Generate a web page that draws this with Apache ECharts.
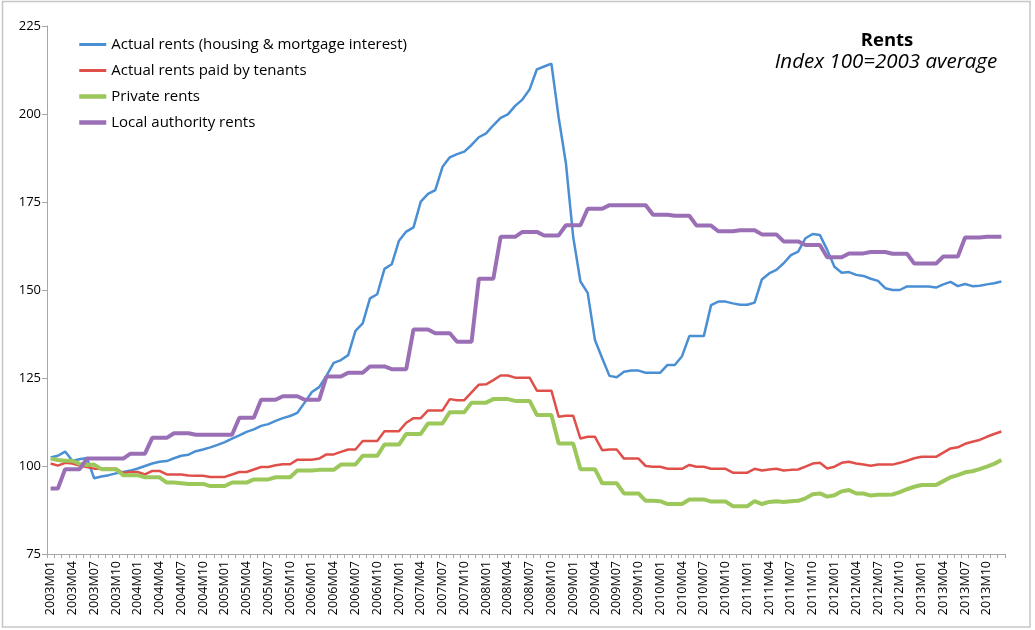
<!DOCTYPE html>
<html><head><meta charset="utf-8">
<script src="https://cdn.jsdelivr.net/npm/echarts@6/dist/echarts.min.js"></script>
<style>html,body{margin:0;padding:0;background:#fff}#c{width:1035px;height:630px}</style>
</head><body><div id="c"></div>
<script>
const years = [2003,2004,2005,2006,2007,2008,2009,2010,2011,2012,2013];
const months = ['M01','M02','M03','M04','M05','M06','M07','M08','M09','M10','M11','M12'];
const categories = [];
years.forEach(y => months.forEach(m => categories.push(y + m)));

const seriesNames = ['Actual rents (housing & mortgage interest)','Actual rents paid by tenants','Private rents','Local authority rents'];

const actualRentsHousing = [
102.4,102.9,104.1,101.5,101.9,102.3,96.5,97.0,97.4,97.9,98.3,98.7,
99.3,100.0,100.7,101.2,101.4,102.2,102.9,103.2,104.2,104.7,105.3,106.0,
106.8,107.8,108.7,109.7,110.4,111.4,111.9,112.8,113.6,114.2,115.1,118.0,
121.0,122.4,125.6,129.3,130.1,131.5,138.4,140.5,147.6,148.8,156.0,157.3,
164.0,166.6,167.8,175.1,177.3,178.4,185.0,187.7,188.6,189.3,191.2,193.4,
194.5,196.8,198.9,199.9,202.3,204.1,207.0,212.7,213.5,214.3,199.0,186.0,
165.1,152.4,149.2,135.8,130.6,125.6,125.2,126.8,127.1,127.1,126.5,126.5,
126.5,128.7,128.7,131.2,136.9,136.9,136.9,145.7,146.7,146.7,146.2,145.8,
145.8,146.4,153.0,154.7,155.7,157.6,159.9,160.9,164.7,165.9,165.6,161.4,
156.6,154.9,155.1,154.3,154.0,153.2,152.6,150.5,150.0,150.0,151.0,151.0,
151.0,151.0,150.7,151.6,152.3,151.1,151.7,151.1,151.2,151.6,151.9,152.4
];
const actualRentsTenants = [
100.7,100.1,100.9,100.7,100.1,99.7,99.25,99.25,99.25,99.25,98.0,98.3,
98.3,97.6,98.6,98.6,97.6,97.6,97.6,97.3,97.2,97.2,96.9,96.9,
96.9,97.6,98.3,98.3,99.0,99.7,99.7,100.2,100.5,100.5,101.8,101.8,
101.8,102.1,103.3,103.3,104.0,104.7,104.7,107.1,107.1,107.1,109.9,109.9,
109.9,112.3,113.6,113.6,115.8,115.8,115.8,119.0,118.7,118.7,120.9,123.1,
123.2,124.4,125.7,125.7,125.1,125.1,125.1,121.4,121.4,121.4,114.0,114.3,
114.3,107.8,108.3,108.3,104.5,104.7,104.7,102.1,102.1,102.1,100.0,99.8,
99.8,99.2,99.2,99.2,100.3,99.8,99.8,99.2,99.2,99.2,98.1,98.1,
98.1,99.2,98.7,99.0,99.2,98.7,98.9,99.0,99.8,100.7,100.9,99.3,
99.8,100.9,101.2,100.7,100.4,100.1,100.4,100.4,100.4,100.9,101.5,102.2,
102.6,102.6,102.6,103.8,105.0,105.3,106.3,106.9,107.4,108.3,109.1,109.8
];
const privateRents = [
102.1,101.7,101.5,101.5,100.6,100.3,100.4,99.1,99.1,99.1,97.4,97.4,
97.4,96.8,96.8,96.8,95.3,95.3,95.1,94.9,94.9,94.9,94.3,94.3,
94.3,95.3,95.3,95.3,96.2,96.2,96.2,96.8,96.8,96.8,98.7,98.7,
98.7,98.9,98.9,98.9,100.4,100.4,100.4,102.9,102.9,102.9,106.1,106.1,
106.1,109.1,109.1,109.1,112.1,112.1,112.1,115.3,115.3,115.3,118.0,118.0,
118.0,119.0,119.0,119.0,118.5,118.5,118.5,114.5,114.5,114.5,106.4,106.4,
106.4,99.1,99.1,99.1,95.1,95.1,95.1,92.2,92.2,92.2,90.1,90.1,
90.0,89.2,89.2,89.2,90.5,90.5,90.5,89.9,89.9,89.9,88.6,88.6,
88.6,90.0,89.2,89.8,90.0,89.8,90.0,90.1,90.8,92.0,92.2,91.3,
91.7,92.8,93.2,92.2,92.2,91.6,91.8,91.8,91.9,92.6,93.4,94.1,
94.6,94.6,94.6,95.7,96.8,97.4,98.2,98.5,99.1,99.8,100.6,101.7
];
const localAuthorityRents = [
93.6,93.6,99.1,99.1,99.1,102.1,102.1,102.1,102.1,102.1,102.1,103.5,
103.5,103.5,108.0,108.0,108.0,109.3,109.3,109.3,108.9,108.9,108.9,108.9,
108.9,108.9,113.7,113.7,113.7,118.8,118.8,118.8,119.8,119.8,119.8,118.8,
118.8,118.8,125.4,125.4,125.4,126.5,126.5,126.5,128.3,128.3,128.3,127.5,
127.5,127.5,138.8,138.8,138.8,137.7,137.7,137.7,135.3,135.3,135.3,153.2,
153.2,153.2,165.1,165.1,165.1,166.5,166.5,166.5,165.5,165.5,165.5,168.4,
168.4,168.4,173.1,173.1,173.1,174.1,174.1,174.1,174.1,174.1,174.1,171.4,
171.4,171.4,171.1,171.1,171.1,168.3,168.3,168.3,166.7,166.7,166.7,167.0,
167.0,167.0,165.8,165.8,165.8,163.8,163.8,163.8,162.8,162.8,162.8,159.3,
159.3,159.3,160.4,160.4,160.4,160.8,160.8,160.8,160.3,160.3,160.3,157.5,
157.5,157.5,157.5,159.5,159.5,159.5,164.9,164.9,164.9,165.1,165.1,165.1
];

const yMin = 75, yMax = 225, yInterval = 25;
const titleText = 'Rents';
const subtitleText = 'Index 100=2003 average';

const FONT = '"Open Sans", Lato, sans-serif';
const colors = ['#4a8fd3','#e0504b','#9cc75b','#9a6fb6'];
const widths = [2.5,2.5,4,4];
const dataSets = [actualRentsHousing, actualRentsTenants, privateRents, localAuthorityRents];

const chart = echarts.init(document.getElementById('c'));
chart.setOption({
  animation: false,
  backgroundColor: '#fff',
  color: colors,
  graphic: [{
    type: 'rect', silent: true,
    shape: {x: 2.5, y: 1.5, width: 1027.5, height: 625.5},
    style: {fill: 'none', stroke: '#c6c6c6', lineWidth: 1.5}
  }],
  title: [
    {text: titleText, left: 887, top: 31, textAlign: 'center', padding: 0,
     textStyle: {fontFamily: FONT, fontSize: 18.5, fontWeight: 'bold', color: '#000'}},
    {text: subtitleText, left: 886, top: 52, textAlign: 'center', padding: 0,
     textStyle: {fontFamily: FONT, fontSize: 20.5, fontStyle: 'italic', fontWeight: 'normal', color: '#000'}}
  ],
  legend: {
    orient: 'vertical', left: 77, top: 37, padding: 0,
    itemWidth: 27, itemHeight: 14, itemGap: 11,
    data: seriesNames.map((n, k) => ({name: n, lineStyle: {width: widths[k] + 0.5, color: colors[k]}})),
    itemStyle: {opacity: 0},
    textStyle: {fontFamily: FONT, fontSize: 15, color: '#000'}
  },
  grid: {left: 47, right: 30, top: 26, bottom: 76, containLabel: false},
  xAxis: {
    type: 'category', data: categories, boundaryGap: true,
    axisLine: {lineStyle: {color: '#a6a6a6', width: 1}},
    axisTick: {show: true, interval: 0, length: 4, lineStyle: {color: '#a6a6a6'}},
    axisLabel: {interval: 2, rotate: 90, margin: 7, fontFamily: FONT, fontSize: 12.5, color: '#000'},
    splitLine: {show: false}
  },
  yAxis: {
    type: 'value', min: yMin, max: yMax, interval: yInterval,
    axisLine: {show: true, lineStyle: {color: '#a6a6a6', width: 1}},
    axisTick: {show: true, length: 5, lineStyle: {color: '#a6a6a6'}},
    axisLabel: {margin: 6, fontFamily: FONT, fontSize: 13, color: '#000'},
    splitLine: {show: false}
  },
  series: seriesNames.map((n, k) => ({
    name: n, type: 'line', data: dataSets[k], symbol: 'none', showSymbol: false,
    lineStyle: {width: widths[k], color: colors[k]},
    itemStyle: {color: colors[k]}
  }))
});
</script></body></html>
